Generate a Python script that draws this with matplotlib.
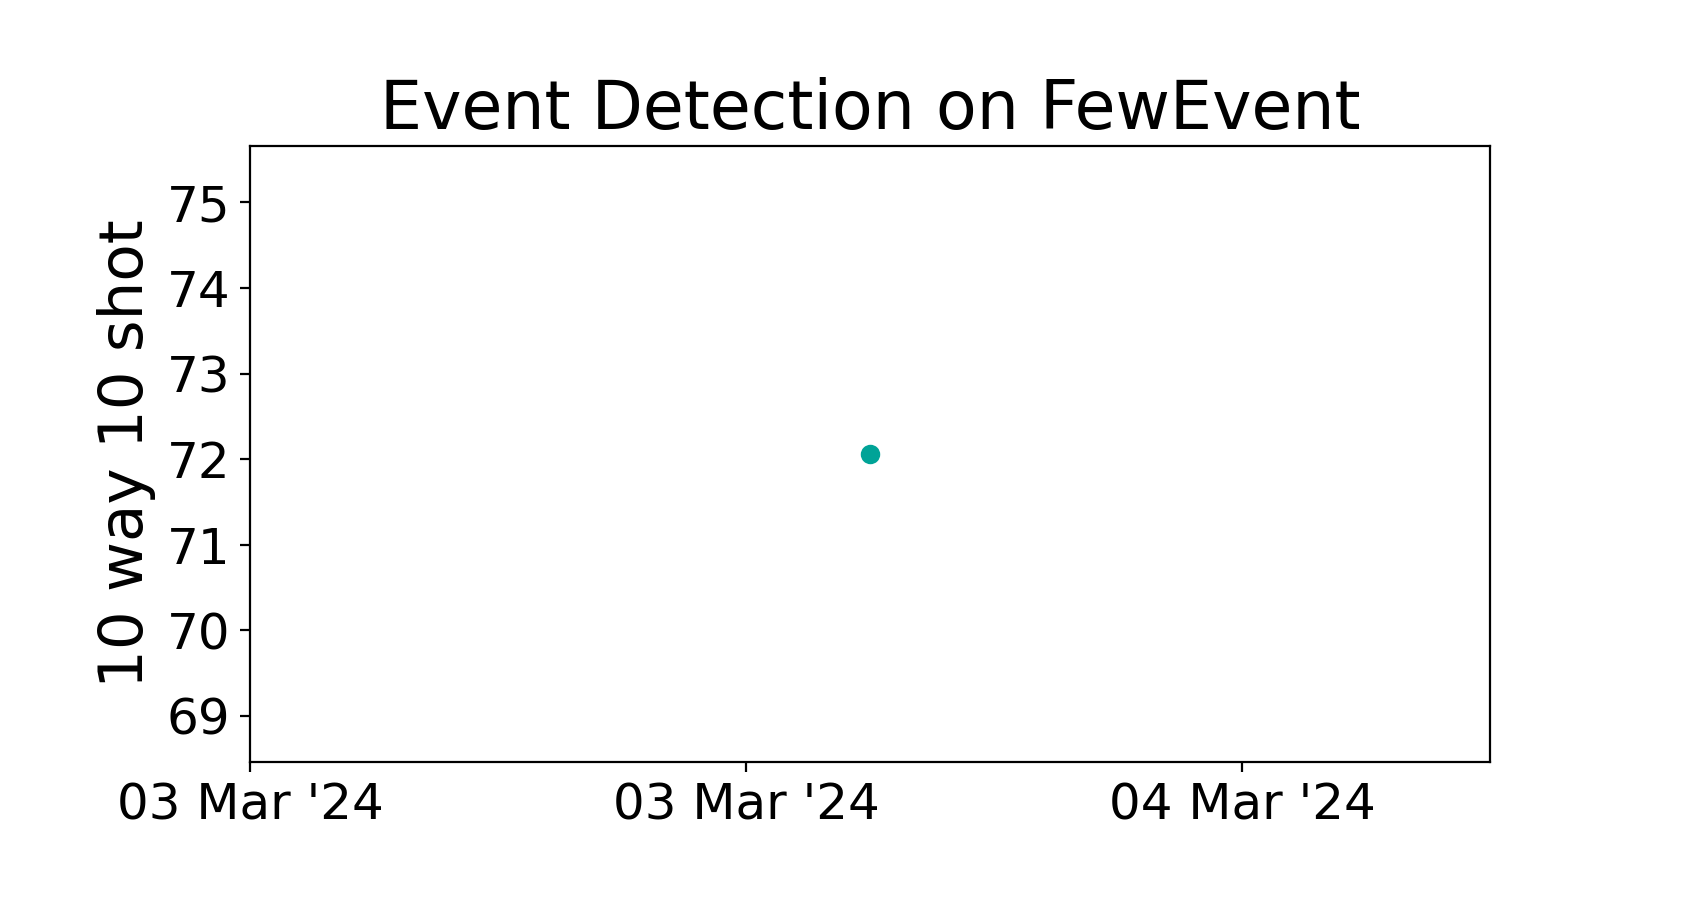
import numpy as np
import pandas as pd
from matplotlib import pyplot as plt
import matplotlib.dates as mdates
from matplotlib.ticker import MultipleLocator

# single result for the benchmark
dates = [pd.Timestamp("2024-03-03 15:00")]
scores = [72.06]
point_color = "#00a397"

fig, ax = plt.subplots(figsize=(8.5, 4.5), dpi=200)
fig.subplots_adjust(left=0.147, right=0.8765, top=0.838, bottom=0.1533)

ax.scatter(dates, scores, color=point_color)

# limits around the single point
ax.set_xlim(dates[0] - pd.Timedelta(hours=15), dates[0] + pd.Timedelta(hours=15))
ax.set_ylim(scores[0] * 0.95, scores[0] * 1.05)

ax.xaxis.set_major_locator(mdates.HourLocator(byhour=[0, 12]))
ax.xaxis.set_major_formatter(mdates.DateFormatter("%d %b '%y"))
ax.yaxis.set_major_locator(MultipleLocator(1))

ax.set_title("Event Detection on FewEvent", fontsize=24)
ax.set_ylabel("10 way 10 shot", fontsize=22)
ax.tick_params(labelsize=18)

plt.savefig("out.png")
